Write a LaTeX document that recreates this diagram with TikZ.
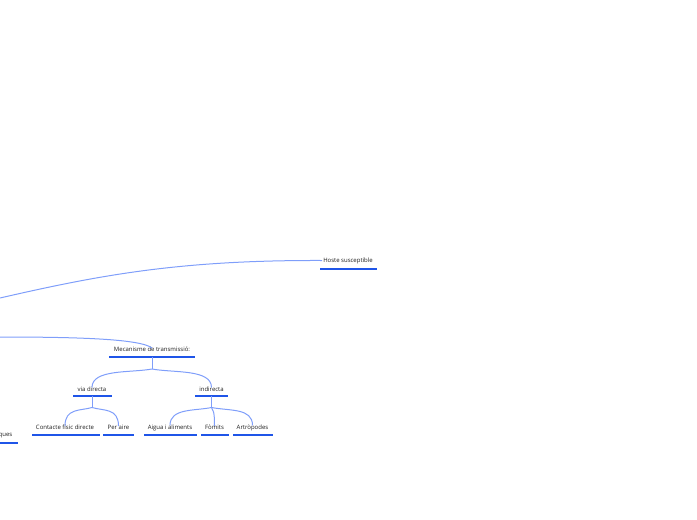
\documentclass[tikz,border=0pt]{standalone}
\usepackage{fontspec}
\setmainfont{Open Sans}
\definecolor{linkblue}{HTML}{7F9EFA}
\definecolor{ulblue}{HTML}{1F55E8}
\definecolor{txt}{HTML}{1E1E1E}
\begin{document}
\begin{tikzpicture}[x=1pt,y=-1pt,
  lbl/.style={inner sep=0pt,font=\fontsize{6}{7}\selectfont,text=txt},
  ul/.style={draw=ulblue,line width=1.8pt},
  link/.style={draw=linkblue,line width=1pt}]
\useasboundingbox (0,0) rectangle (697,520);
% free ends at left border
\coordinate (L1) at (0,298);
\coordinate (L2) at (0,337);
% nodes
\node[lbl] (hoste) at (348,260.5) {Hoste susceptible};
\node[lbl] (mec) at (152,349.5) {Mecanisme de transmissió:};
\node[lbl] (via) at (92,389) {via directa};
\node[lbl] (ind) at (211.5,389) {indirecta};
\node[lbl] (cont) at (65,427.5) {Contacte físic directe};
\node[lbl] (aire) at (118.5,427.5) {Per aire};
\node[lbl] (aig) at (170,427.5) {Aigua i aliments};
\node[lbl] (fom) at (214.5,427.5) {Fòmits};
\node[lbl] (art) at (252.5,427.5) {Artròpodes};
\node[lbl,anchor=west] (ques) at (-1.5,436) {ques};
% underlines
\coordinate (hU1) at (320,269); \coordinate (hU2) at (377,269);
\coordinate (mU1) at (109,357); \coordinate (mU2) at (195,357);
\coordinate (vU1) at (73,396); \coordinate (vU2) at (112,396);
\coordinate (iU1) at (195,396); \coordinate (iU2) at (228,396);
\coordinate (cU1) at (32,435); \coordinate (cU2) at (100,435);
\coordinate (pU1) at (103,435); \coordinate (pU2) at (134,435);
\coordinate (aU1) at (144,435); \coordinate (aU2) at (197,435);
\coordinate (fU1) at (201,435); \coordinate (fU2) at (229,435);
\coordinate (rU1) at (233,435); \coordinate (rU2) at (273,435);
\coordinate (qU1) at (0,443); \coordinate (qU2) at (18,443);
\foreach \a/\b in {hU1/hU2,mU1/mU2,vU1/vU2,iU1/iU2,cU1/cU2,pU1/pU2,aU1/aU2,fU1/fU2,rU1/rU2,qU1/qU2}
  \draw[ul] (\a) -- (\b);
% junctions
\coordinate (mJ) at (152,369);
\coordinate (vJ) at (92,407.5);
\coordinate (iJ) at (211.5,407.5);
% connectors from left
\draw[link] (L1) .. controls (100,275) and (180,260) .. ([xshift=-1pt]hoste.west);
\draw[link] (L2) .. controls (80,337) and (140,339) .. ([yshift=-1pt]mec.north);
% mecanisme children
\draw[link] (mec.south |- mU1) -- (mJ);
\draw[link] (mJ) .. controls (130,373) and (92,369) .. ([yshift=-1pt]via.north);
\draw[link] (mJ) .. controls (174,373) and (211.5,369) .. ([yshift=-1pt]ind.north);
% via directa children
\draw[link] (vU1 -| via) -- (vJ);
\draw[link] (vJ) .. controls (80,411) and (65,408) .. ([yshift=-1pt]cont.north);
\draw[link] (vJ) .. controls (104,411) and (118.5,408) .. ([yshift=-1pt]aire.north);
% indirecta children
\draw[link] (iU1 -| ind) -- (iJ);
\draw[link] (iJ) .. controls (195,411) and (170,408) .. ([yshift=-1pt]aig.north);
\draw[link] (iJ) .. controls (213,411) and (214.5,410) .. ([yshift=-1pt]fom.north);
\draw[link] (iJ) .. controls (230,411) and (252.5,408) .. ([yshift=-1pt]art.north);
\end{tikzpicture}
\end{document}
